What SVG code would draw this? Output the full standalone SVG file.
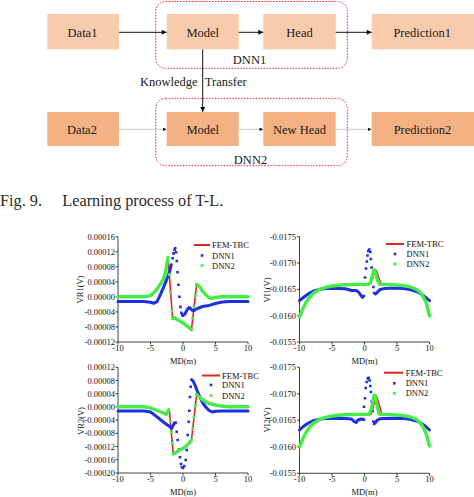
<svg xmlns="http://www.w3.org/2000/svg" width="474" height="497" viewBox="0 0 474 497">
<style>
.b1{fill:#F8CBAD}
.b2{fill:#F4B183}
.lbl{font-family:"Liberation Serif",serif;font-size:12.5px;fill:#1a1a1a;text-anchor:middle}
.dash{fill:none;stroke:#e8334a;stroke-width:1;stroke-dasharray:1.6 1.3}
.k{stroke:#111;stroke-width:1;fill:none}
.g{stroke:#c8c8c8;stroke-width:1;fill:none}
.ax{stroke:#111;stroke-width:0.8;fill:none}
.t{font-family:"Liberation Serif",serif;font-size:8.5px;fill:#111}
.ty{text-anchor:end}
.tx{text-anchor:middle}
.red{fill:none;stroke:#e52420;stroke-width:1.6;stroke-linejoin:round}
.bl{fill:none;stroke:#1c2fe2;stroke-width:3;stroke-linejoin:round;stroke-linecap:round}
.gr{fill:none;stroke:#45ec45;stroke-width:3.4;stroke-linejoin:round;stroke-linecap:round}
.db{fill:none;stroke:#1c2fe2;stroke-width:2.6;stroke-linecap:square}
.dg{fill:none;stroke:#45ec45;stroke-width:2.8;stroke-linecap:square}
.cap{font-family:"Liberation Serif",serif;font-size:16.3px;fill:#2a2a2a}
</style>
<defs>
<marker id="ah" viewBox="0 0 10 10" refX="10" refY="5" markerUnits="userSpaceOnUse" markerWidth="6" markerHeight="5" orient="auto"><path d="M0,0L10,5L0,10z" fill="#111"/></marker>
<marker id="ahs" viewBox="0 0 10 10" refX="10" refY="5" markerUnits="userSpaceOnUse" markerWidth="4" markerHeight="3.6" orient="auto"><path d="M0,0L10,5L0,10z" fill="#111"/></marker>
</defs>
<rect width="474" height="497" fill="#fff"/>

<g id="dnn1"><rect class="dash" x="155.7" y="1.5" width="191.6" height="66.8" rx="10"/><text class="lbl" x="249.5" y="64.3">DNN1</text></g>
<g id="dnn2"><rect class="dash" x="155.7" y="98.3" width="191.6" height="67.4" rx="10"/><text class="lbl" x="250.5" y="164.3">DNN2</text></g>

<g id="data1"><rect class="b1" x="47.3" y="14" width="71.7" height="35.3"/><text class="lbl" x="82.5" y="36.5">Data1</text></g>
<g id="model1"><rect class="b1" x="166.7" y="14" width="72" height="35.3"/><text class="lbl" x="202.7" y="36.5">Model</text></g>
<g id="head"><rect class="b1" x="263.3" y="14" width="72.4" height="35.3"/><text class="lbl" x="299.5" y="36.5">Head</text></g>
<g id="pred1"><rect class="b1" x="371.7" y="14" width="102.3" height="35.3"/><text class="lbl" x="422.2" y="36.5">Prediction1</text></g>
<g id="data2"><rect class="b2" x="47.3" y="112" width="71.7" height="34"/><text class="lbl" x="82" y="133.5">Data2</text></g>
<g id="model2"><rect class="b2" x="166.7" y="112" width="72" height="34"/><text class="lbl" x="202.7" y="133.5">Model</text></g>
<g id="newhead"><rect class="b2" x="263.3" y="112" width="72.4" height="34"/><text class="lbl" x="299.5" y="133.5">New Head</text></g>
<g id="pred2"><rect class="b2" x="371.7" y="112" width="102.3" height="34"/><text class="lbl" x="422.5" y="133.5">Prediction2</text></g>

<g id="connectors">
<line class="k" x1="119" y1="32.3" x2="166.7" y2="32.3" marker-end="url(#ah)"/>
<line class="k" x1="238.7" y1="32.3" x2="263.3" y2="32.3" marker-end="url(#ah)"/>
<line class="k" x1="335.7" y1="32.3" x2="371.7" y2="32.3" marker-end="url(#ah)"/>
<line class="k" x1="202.7" y1="49.3" x2="202.7" y2="112" marker-end="url(#ah)"/>
<line class="g" x1="119" y1="129.3" x2="166.5" y2="129.3" marker-end="url(#ahs)"/>
<line class="g" x1="238.7" y1="129.3" x2="263.1" y2="129.3" marker-end="url(#ahs)"/>
<line class="g" x1="335.7" y1="129.3" x2="371.5" y2="129.3" marker-end="url(#ahs)"/>
<text class="lbl" x="140" y="86" style="text-anchor:start;word-spacing:4.3px">Knowledge Transfer</text>
</g>

<text class="cap" x="0" y="205.5">Fig. 9.</text>
<text class="cap" x="62.3" y="205.5">Learning process of T-L.</text>

<!-- Plot 1: VR1 -->
<g id="plot-vr1">
<path class="ax" d="M118,236.7V342H248M118,236.7h-2.5M118,251.75h-2.5M118,266.8h-2.5M118,281.85h-2.5M118,296.9h-2.5M118,311.95h-2.5M118,327h-2.5M118,342h-2.5M118,342v2.5M150.5,342v2.5M183,342v2.5M215.5,342v2.5M248,342v2.5"/>
<g class="t ty">
<text x="115" y="239.7">0.00016</text><text x="115" y="254.75">0.00012</text><text x="115" y="269.8">0.00008</text><text x="115" y="284.85">0.00004</text><text x="115" y="299.9">0.00000</text><text x="115" y="314.95">-0.00004</text><text x="115" y="330">-0.00008</text><text x="115" y="345">-0.00012</text>
</g>
<g class="t tx">
<text x="118" y="351">-10</text><text x="150.5" y="351">-5</text><text x="183" y="351">0</text><text x="215.5" y="351">5</text><text x="248" y="351">10</text>
<text x="183" y="364">MD(m)</text>
<text transform="translate(83,289.5) rotate(-90)">VR1(V)</text>
</g>
<polyline class="red" points="118,296.7 150.5,295.6 153.75,292.9 157,289.2 160.25,284.3 163.5,278.6 165.45,272.3 166.75,264.7 168.05,257.2 172.6,319.3 176.5,319.3 179.75,321.1 183,323 186.25,325.3 189.5,327.9 191.45,329.8 196.65,284.3 199.25,286.2 202.5,291.1 205.75,294.8 209,297.8 215.5,297.5 222,296.7 248,296.7"/>
<polyline class="bl" points="118,301.6 144,301.6 150.5,302.3 153.75,303.3 157,301.6 160.25,294.8 163.5,287.3 166.75,279.4 170,270.4 171.3,264.7"/>
<path class="db" d="M172.6 258.3h0M173.6 253.4h0M174.55 249.7h0M175.2 248.2h0M176.2 252.3h0M176.8 261h0M177.5 272.3h0M178.45 284.7h0M179.4 296.7h0M180.4 306.9h0M181.4 312.9h0M182.35 315.1h0"/>
<polyline class="bl" points="183,315.5 184.95,314 186.9,310.2 188.85,307.6 190.15,308 192.1,310.2 194.05,310.6 196,309.1 202.5,306.5 209,305.4 215.5,303.5 222,302 230,301.6 248,301.6"/>
<polyline class="gr" points="118,296.7 144,296.7 150.5,295.6 153.75,292.9 157,289.2 160.25,284.3 163.5,278.6 165.45,272.3 166.75,264.7 168.05,257.5"/>
<polyline class="gr" points="172.6,318.5 174.55,317.4 176.5,319.3 179.75,321.1 183,323 186.25,325.3 189.5,327.9 191.45,329.8"/>
<polyline class="gr" points="196.65,284.3 199.25,286.2 202.5,291.1 205.75,294.8 209,297.8 212.25,298.2 215.5,297.5 222,296.7 248,296.7"/>
<path class="dg" d="M169.3 274.6h0M170.65 292.7h0M172 310.8h0M192.75 318.4h0M194.05 307.1h0M195.35 295.7h0"/>
<line class="red" x1="194" y1="245" x2="210" y2="245" style="stroke-width:2"/>
<path class="db" d="M202 255.5h0"/><path class="dg" d="M202 265.5h0"/>
<g class="t"><text x="212" y="248">FEM-TBC</text><text x="212" y="258.5">DNN1</text><text x="212" y="268.5">DNN2</text></g>
</g>

<!-- Plot 2: VI1 -->
<g id="plot-vi1">
<path class="ax" d="M299.5,236.7V342H429.5M299.5,236.7h-2.5M299.5,263h-2.5M299.5,289.35h-2.5M299.5,315.7h-2.5M299.5,342h-2.5M299.5,342v2.5M332,342v2.5M364.5,342v2.5M397,342v2.5M429.5,342v2.5"/>
<g class="t ty">
<text x="296" y="239.7">-0.0175</text><text x="296" y="266">-0.0170</text><text x="296" y="292.35">-0.0165</text><text x="296" y="318.7">-0.0160</text><text x="296" y="345">-0.0155</text>
</g>
<g class="t tx">
<text x="299.5" y="351">-10</text><text x="332" y="351">-5</text><text x="364.5" y="351">0</text><text x="397" y="351">5</text><text x="429.5" y="351">10</text>
<text x="364.5" y="364">MD(m)</text>
<text transform="translate(270,290) rotate(-90)">VI1(V)</text>
</g>
<polyline class="red" points="299.5,317 302.75,309 306,302.5 309.25,297.5 312.5,294 319,289.5 325.5,287.3 332,286 338.5,285.2 345,284.7 358,284.4 370.5,284.3 372.5,279 374.2,272 375.55,269.5 377,272 378.8,277.5 380.5,282.5 381.6,284.3 384,284.4 397,285 403.5,285.6 410,286.8 416.5,289.5 419.75,292 423,296.5 426.25,303 429.5,316"/>
<polyline class="bl" points="299.5,300.7 302.75,298 306,295.5 309.25,293.3 312.5,291.5 319,289.5 325.5,288.6 332,288.3 338.5,288.5 345,288.8 348.25,289.5 351.5,290.5 356,290.5 358.5,292 360.6,295 362.5,297.3 363.9,296"/>
<path class="db" d="M364.3 285h0M365 277.5h0M366 268.5h0M366.8 261.5h0M367.5 255.5h0M368.3 251h0M369.3 249.5h0M370.3 252h0M370.9 259h0M371.6 267.5h0M372.5 277h0M373.4 287h0M374.2 293h0"/>
<polyline class="bl" points="375.5,294 377.5,292 380,289.5 384,288.6 390.5,288.3 397,288.3 403.5,288.6 410,289.5 416.5,291.5 419.75,293.3 423,295.5 426.25,298 429.5,300.7"/>
<polyline class="gr" points="299.5,317 302.75,309 306,302.5 309.25,297.5 312.5,294 319,289.5 325.5,287.3 332,286 338.5,285.2 345,284.7 358,284.4 369.05,284.3 371,281 372.3,276 373.6,271 374.25,270 374.9,270.5 376.2,275 377.5,280 379.45,284.3 384,284.4 397,285 403.5,285.6 410,286.8 416.5,289.5 419.75,292 423,296.5 426.25,303 429.5,316"/>
<line class="red" x1="386" y1="244" x2="404" y2="244" style="stroke-width:2"/>
<path class="db" d="M395 254h0"/><path class="dg" d="M395 264h0"/>
<g class="t"><text x="406.5" y="247">FEM-TBC</text><text x="406.5" y="257">DNN1</text><text x="406.5" y="267">DNN2</text></g>
</g>

<!-- Plot 3: VR2 -->
<g id="plot-vr2">
<path class="ax" d="M118,367.3V473H248M118,367.3h-2.5M118,380.5h-2.5M118,393.7h-2.5M118,406.9h-2.5M118,420.1h-2.5M118,433.3h-2.5M118,446.5h-2.5M118,459.7h-2.5M118,473h-2.5M118,473v2.5M150.5,473v2.5M183,473v2.5M215.5,473v2.5M248,473v2.5"/>
<g class="t ty">
<text x="115" y="370.3">0.00012</text><text x="115" y="383.5">0.00008</text><text x="115" y="396.7">0.00004</text><text x="115" y="409.9">0.00000</text><text x="115" y="423.1">-0.00004</text><text x="115" y="436.3">-0.00008</text><text x="115" y="449.5">-0.00012</text><text x="115" y="462.7">-0.00016</text><text x="115" y="476">-0.00020</text>
</g>
<g class="t tx">
<text x="118" y="482">-10</text><text x="150.5" y="482">-5</text><text x="183" y="482">0</text><text x="215.5" y="482">5</text><text x="248" y="482">10</text>
<text x="183" y="494.5">MD(m)</text>
<text transform="translate(84,421) rotate(-90)">VR2(V)</text>
</g>
<polyline class="red" points="118,406.7 144,406.7 150.5,408 157,410.3 163.5,413 166.1,414.3 167.4,412 168.7,409.6 169.35,410.3 173.25,453.9 175.2,453.2 176.5,451.9 179.75,449.9 183,448.3 186.25,445.9 189.5,442.6 191.45,440 196.65,394.5 197.95,395.8 200.55,398.1 202.5,399.7 205.75,401.7 209,403.4 215.5,405 222,406 228.5,406.7 248,406.7"/>
<polyline class="bl" points="118,411 144,411 150.5,412 153.75,414.3 157,416.9 160.25,419.5 163.5,422.2 166.75,424.5 170,426.8 171.6,428.5 173.25,425.2 174.55,422.8 175.7,422.7"/>
<path class="db" d="M176.7 431.7h0M177.7 440h0M179 449.3h0M180 457.3h0M181 464h0M181.9 467.3h0M183 468h0M184.3 466h0M185.7 460h0M186.7 450h0M187.7 435h0M188.7 421.7h0M189.3 410.7h0M190 397h0M190.7 386.7h0"/>
<polyline class="bl" points="191.5,379.5 193.4,381.5 195.35,386 197.3,391.2 200.55,398.5 202.5,402.5 205.75,407 209,410.5 212.25,412 215.5,411.3 222,411 248,411"/>
<polyline class="gr" points="118,406.7 144,406.7 150.5,408 157,410.3 163.5,413 166.1,414.3 167.4,412 168.7,409.6"/>
<polyline class="gr" points="173.25,453.9 175.2,453.2 176.5,451.9 179.75,449.9 183,448.3 186.25,445.9 189.5,442.6 191.45,440"/>
<polyline class="gr" points="196.65,394.5 197.95,395.8 200.55,398.1 202.5,399.7 205.75,401.7 209,403.4 215.5,405 222,406 228.5,406.7 248,406.7"/>
<path class="dg" d="M170.3 420.9h0M171.3 432.1h0M172.3 443.3h0M192.75 428.6h0M194.05 417.25h0M195.35 405.9h0"/>
<line class="red" x1="202" y1="375.5" x2="220" y2="375.5" style="stroke-width:2"/>
<path class="db" d="M211 385h0"/><path class="dg" d="M211 395.5h0"/>
<g class="t"><text x="222" y="378.5">FEM-TBC</text><text x="222" y="388">DNN1</text><text x="222" y="398.5">DNN2</text></g>
</g>

<!-- Plot 4: VI2 -->
<g id="plot-vi2">
<path class="ax" d="M299.5,367.3V473.3H429.5M299.5,367.3h-2.5M299.5,393.8h-2.5M299.5,420.3h-2.5M299.5,446.8h-2.5M299.5,473.3h-2.5M299.5,473.3v2.5M332,473.3v2.5M364.5,473.3v2.5M397,473.3v2.5M429.5,473.3v2.5"/>
<g class="t ty">
<text x="296" y="370.3">-0.0175</text><text x="296" y="396.8">-0.0170</text><text x="296" y="423.3">-0.0165</text><text x="296" y="449.8">-0.0160</text><text x="296" y="476.3">-0.0155</text>
</g>
<g class="t tx">
<text x="299.5" y="482">-10</text><text x="332" y="482">-5</text><text x="364.5" y="482">0</text><text x="397" y="482">5</text><text x="429.5" y="482">10</text>
<text x="364.5" y="494.5">MD(m)</text>
<text transform="translate(270,420) rotate(-90)">VI2(V)</text>
</g>
<polyline class="red" points="299.5,447 302.75,439 306,432.5 309.25,427.5 312.5,424 319,419.5 325.5,417.3 332,416 338.5,415.2 345,414.7 358,414.4 371,414.3 373,408 375,399 376.2,395.5 377.5,399 379.5,406 381,411.5 382.05,414.3 384,414.4 397,415 403.5,415.6 410,416.8 416.5,419.5 419.75,422.5 423,427 426.25,434 429.5,446"/>
<polyline class="bl" points="299.5,430 302.75,427 306,424.5 309.25,422.5 312.5,421 319,419.3 325.5,418.6 332,418.3 345,418.5 351.5,419 354.1,421.5 356.05,422.5 358,420 361.25,419 363.85,419.5"/>
<path class="db" d="M364 406.7h0M365 398.3h0M365.7 388h0M366.7 382h0M367.7 378.5h0M368.7 377.8h0M369.6 380.5h0M370.3 386h0M370.9 392h0M371.7 401.7h0M372.6 411h0M373.4 421.5h0M374.2 424h0"/>
<polyline class="bl" points="375.5,422.5 377.5,420 380,418.8 384,418.5 397,418.3 403.5,418.6 410,419.3 416.5,421 419.75,422.5 423,424.5 426.25,427 429.5,430"/>
<polyline class="gr" points="299.5,447 302.75,439 306,432.5 309.25,427.5 312.5,424 319,419.5 325.5,417.3 332,416 338.5,415.2 345,414.7 358,414.4 369.05,414.3 371,410 372.3,404 373.6,397 374.25,395 374.9,395.5 376.2,401 377.5,408 379.45,414.3 384,414.4 397,415 403.5,415.6 410,416.8 416.5,419.5 419.75,422.5 423,427 426.25,434 429.5,446"/>
<line class="red" x1="384" y1="372.7" x2="403" y2="372.7" style="stroke-width:2"/>
<path class="db" d="M394.3 383.3h0"/><path class="dg" d="M394.3 393.3h0"/>
<g class="t"><text x="405.7" y="375.7">FEM-TBC</text><text x="405.7" y="386.3">DNN1</text><text x="405.7" y="396.3">DNN2</text></g>
</g>
</svg>
